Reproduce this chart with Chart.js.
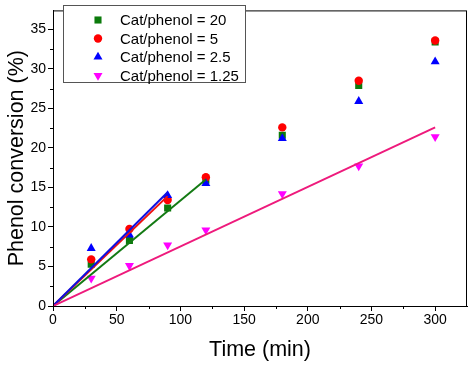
<!DOCTYPE html>
<html>
<head>
<meta charset="utf-8">
<script src="https://cdn.jsdelivr.net/npm/chart.js@4.4.0/dist/chart.umd.min.js"></script>
<style>
  html, body { margin: 0; padding: 0; background: #fff; }
  #wrap { width: 474px; height: 367px; position: relative; }
</style>
</head>
<body>
<div id="wrap"><canvas id="grafico"></canvas></div>
<script>
// dados
const tempos = [30, 60, 90, 120, 180, 240, 300];
const rotulos = ['Cat/phenol = 20', 'Cat/phenol = 5', 'Cat/phenol = 2.5', 'Cat/phenol = 1.25'];
const cat20 = [5.3, 8.3, 12.4, 15.9, 21.6, 27.9, 33.4];
const cat5 = [5.9, 9.75, 13.4, 16.3, 22.6, 28.5, 33.6];
const cat25 = [7.3, 9.0, 14.0, 15.5, 21.2, 25.9, 30.9];
const cat125 = [3.5, 5.1, 7.7, 9.6, 14.2, 17.7, 21.4];
// ajustes lineares (origem até o último ponto ajustado)
const ajusteX = [120, 90, 90, 300];
const ajusteY = [16.0, 13.9, 14.4, 22.6];
const xTicks = [0, 50, 100, 150, 200, 250, 300];
const yTicks = [0, 5, 10, 15, 20, 25, 30, 35];

const cores = ['#0b7a0b', '#ff0000', '#0000ff', '#ff00ff'];
const coresLinha = ['#137a13', '#ee1111', '#1010e0', '#ee1a7c'];
const estilos = ['rect', 'circle', 'triangle', 'triangle'];
const rotacoes = [0, 0, 0, 180];
const raios = [5, 4.2, 5.2, 5.2];
const series = [cat20, cat5, cat25, cat125];

const FONTE = "'Liberation Sans', Arial, sans-serif";

const datasets = [];
series.forEach((s, i) => {
    datasets.push({
        label: rotulos[i],
        data: tempos.map((t, k) => ({ x: t, y: s[k] })),
        showLine: false,
        pointStyle: estilos[i],
        rotation: rotacoes[i],
        pointRadius: raios[i],
        pointBackgroundColor: cores[i],
        pointBorderColor: cores[i],
        pointBorderWidth: 0,
        order: 10 - i
    });
});
series.forEach((s, i) => {
    datasets.push({
        label: '',
        data: [{ x: 0, y: 0 }, { x: ajusteX[i], y: ajusteY[i] }],
        showLine: true,
        borderColor: coresLinha[i],
        borderWidth: 2,
        pointRadius: 0,
        order: 5 - i
    });
});

// moldura, ticks menores e legenda
const pluginMoldura = {
    id: 'moldura',
    afterDraw(chart) {
        const ctx = chart.ctx;
        const a = chart.chartArea;
        const sx = chart.scales.x, sy = chart.scales.y;
        ctx.save();
        ctx.strokeStyle = '#000';
        ctx.lineWidth = 1;
        ctx.strokeRect(a.left + 0.5, a.top + 0.5, a.right - a.left - 1, a.bottom - a.top);

        // ticks menores
        ctx.beginPath();
        for (let v = 25; v < sx.max; v += 50) {
            const px = Math.round(sx.getPixelForValue(v)) + 0.5;
            ctx.moveTo(px, a.bottom);
            ctx.lineTo(px, a.bottom + 3);
        }
        for (let v = 2.5; v < sy.max; v += 5) {
            const py = Math.round(sy.getPixelForValue(v)) + 0.5;
            ctx.moveTo(a.left, py);
            ctx.lineTo(a.left - 3, py);
        }
        ctx.stroke();

        // legenda
        const lx = 63, ly = 5, lw = 182, lh = 77;
        ctx.fillStyle = '#fff';
        ctx.fillRect(lx, ly, lw, lh);
        ctx.strokeStyle = '#555';
        ctx.strokeRect(lx + 0.5, ly + 0.5, lw, lh);
        ctx.font = '15px ' + FONTE;
        ctx.textBaseline = 'middle';
        for (let i = 0; i < 4; i++) {
            const ds = chart.data.datasets[i];
            const cy = ly + 15 + i * 18.5;
            ctx.fillStyle = cores[i];
            ctx.strokeStyle = cores[i];
            Chart.helpers.drawPoint(ctx, {
                pointStyle: ds.pointStyle,
                rotation: ds.rotation,
                radius: ds.pointRadius,
                borderWidth: 0
            }, 98, cy);
            ctx.fillStyle = '#000';
            ctx.fillText(ds.label, 120, cy + 1);
        }
        ctx.restore();
    }
};

new Chart(document.getElementById('grafico'), {
    type: 'scatter',
    data: { datasets },
    options: {
        responsive: true,
        maintainAspectRatio: false,
        animation: false,
        layout: { padding: { top: 5, right: 7, left: 0, bottom: 0 } },
        plugins: {
            legend: { display: false },
            tooltip: { enabled: false }
        },
        scales: {
            x: {
                type: 'linear',
                min: 0,
                max: 325,
                afterBuildTicks: (s) => { s.ticks = xTicks.map(v => ({ value: v })); },
                afterFit: (s) => { s.height = 61; },
                grid: { drawOnChartArea: false, color: '#000', tickLength: 5, tickWidth: 1 },
                border: { display: true, color: '#000', width: 1 },
                ticks: { color: '#000', font: { family: FONTE, size: 14 }, padding: 1, maxRotation: 0 },
                title: { display: true, text: 'Time (min)', color: '#000', font: { family: FONTE, size: 21.5 }, padding: { top: 3 } }
            },
            y: {
                type: 'linear',
                min: 0,
                max: 37.4,
                afterBuildTicks: (s) => { s.ticks = yTicks.map(v => ({ value: v })); },
                afterFit: (s) => { s.width = 53; },
                grid: { drawOnChartArea: false, color: '#000', tickLength: 5, tickWidth: 1 },
                border: { display: true, color: '#000', width: 1 },
                ticks: { color: '#000', font: { family: FONTE, size: 14 }, padding: 2 },
                title: { display: true, text: 'Phenol conversion (%)', color: '#000', font: { family: FONTE, size: 21.5 }, padding: { bottom: 0 } }
            }
        }
    },
    plugins: [pluginMoldura]
});
</script>
</body>
</html>
